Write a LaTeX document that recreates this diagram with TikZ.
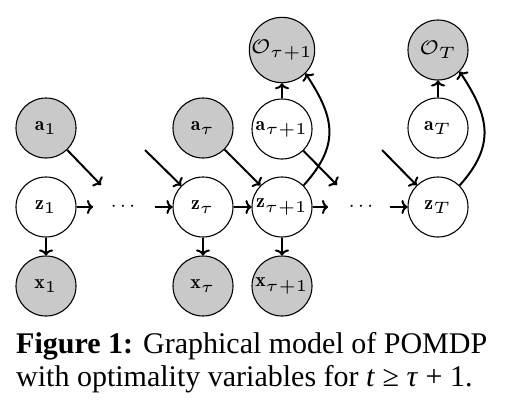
\documentclass[tikz,border=0pt]{standalone}
\usepackage{fontspec}
\usepackage{graphicx}
\newfontfamily\capfont{Liberation Serif}
\newcommand\lab[1]{\scalebox{3.3}{\fontsize{6}{7}\selectfont$#1$}}
\usetikzlibrary{arrows.meta}
\begin{document}
\begin{tikzpicture}[x=1pt,y=1pt,
  var/.style={circle,draw=black,line width=1.1pt,minimum size=60pt,inner sep=0pt},
  obs/.style={var,fill=black!21},
  edge/.style={line width=2pt,-{To[length=6pt,width=14pt]}},
  dotsnode/.style={font=\fontsize{22}{25}\selectfont}]
\useasboundingbox (0,0) rectangle (505,-405);
% nodes
\node[obs] (a1) at (46,-128) {\lab{\mathbf{a}_1}};
\node[var] (z1) at (46,-207) {\lab{\mathbf{z}_1}};
\node[obs] (x1) at (46,-286) {\lab{\mathbf{x}_1}};
\node[dotsnode] (d1) at (123,-207) {$\cdots$};
\node[obs] (at) at (203,-128) {\lab{\mathbf{a}_\tau}};
\node[var] (zt) at (203,-207) {\lab{\mathbf{z}_\tau}};
\node[obs] (xt) at (203,-286) {\lab{\mathbf{x}_\tau}};
\node[obs] (Ot1) at (282,-50) {\lab{\mathcal{O}_{\tau+1}}};
\node[var] (at1) at (282,-129) {\lab{\mathbf{a}_{\tau+1}}};
\node[var] (zt1) at (282,-207) {\lab{\mathbf{z}_{\tau+1}}};
\node[obs] (xt1) at (282,-286) {\lab{\mathbf{x}_{\tau+1}}};
\node[dotsnode] (d2) at (361,-207) {$\cdots$};
\node[obs] (OT) at (438,-50) {\lab{\mathcal{O}_T}};
\node[var] (aT) at (438,-128) {\lab{\mathbf{a}_T}};
\node[var] (zT) at (438,-207) {\lab{\mathbf{z}_T}};
% free ends
\coordinate (c1) at (101,-185);
\coordinate (c2) at (145,-150);
\coordinate (c3) at (337,-185);
\coordinate (c4) at (382,-150);
\coordinate (c5) at (93,-207);
\coordinate (c6) at (155,-207);
\coordinate (c7) at (328,-207);
\coordinate (c8) at (390,-207);
% edges
\draw[edge] (a1) -- (c1);
\draw[edge] (c2) -- (zt);
\draw[edge] (at) -- (zt1);
\draw[edge] (at1) -- (c3);
\draw[edge] (c4) -- (zT);
\draw[edge] (z1) -- (c5);
\draw[edge] (c6) -- (zt);
\draw[edge] (zt) -- (zt1);
\draw[edge] (zt1) -- (c7);
\draw[edge] (c8) -- (zT);
\draw[edge] (z1) -- (x1);
\draw[edge] (zt) -- (xt);
\draw[edge] (zt1) -- (xt1);
\draw[edge] (at1) -- (Ot1);
\draw[edge] (aT) -- (OT);
\draw[edge] (zt1.45) .. controls +(36,40) and +(30,-45) .. (Ot1.-45);
\draw[edge] (zT.45) .. controls +(36,40) and +(30,-45) .. (OT.-45);
% caption
\node[anchor=base west,inner sep=0pt,font=\capfont\fontsize{30}{36}\selectfont] (cap1) at (16,-353)
  {\textbf{Figure 1:} Graphical model of POMDP};
\node[anchor=base west,inner sep=0pt,font=\capfont\fontsize{30}{36}\selectfont] (cap2) at (16,-386)
  {with optimality variables for \textit{t} ≥ \textit{τ} + 1.};
\end{tikzpicture}
\end{document}
